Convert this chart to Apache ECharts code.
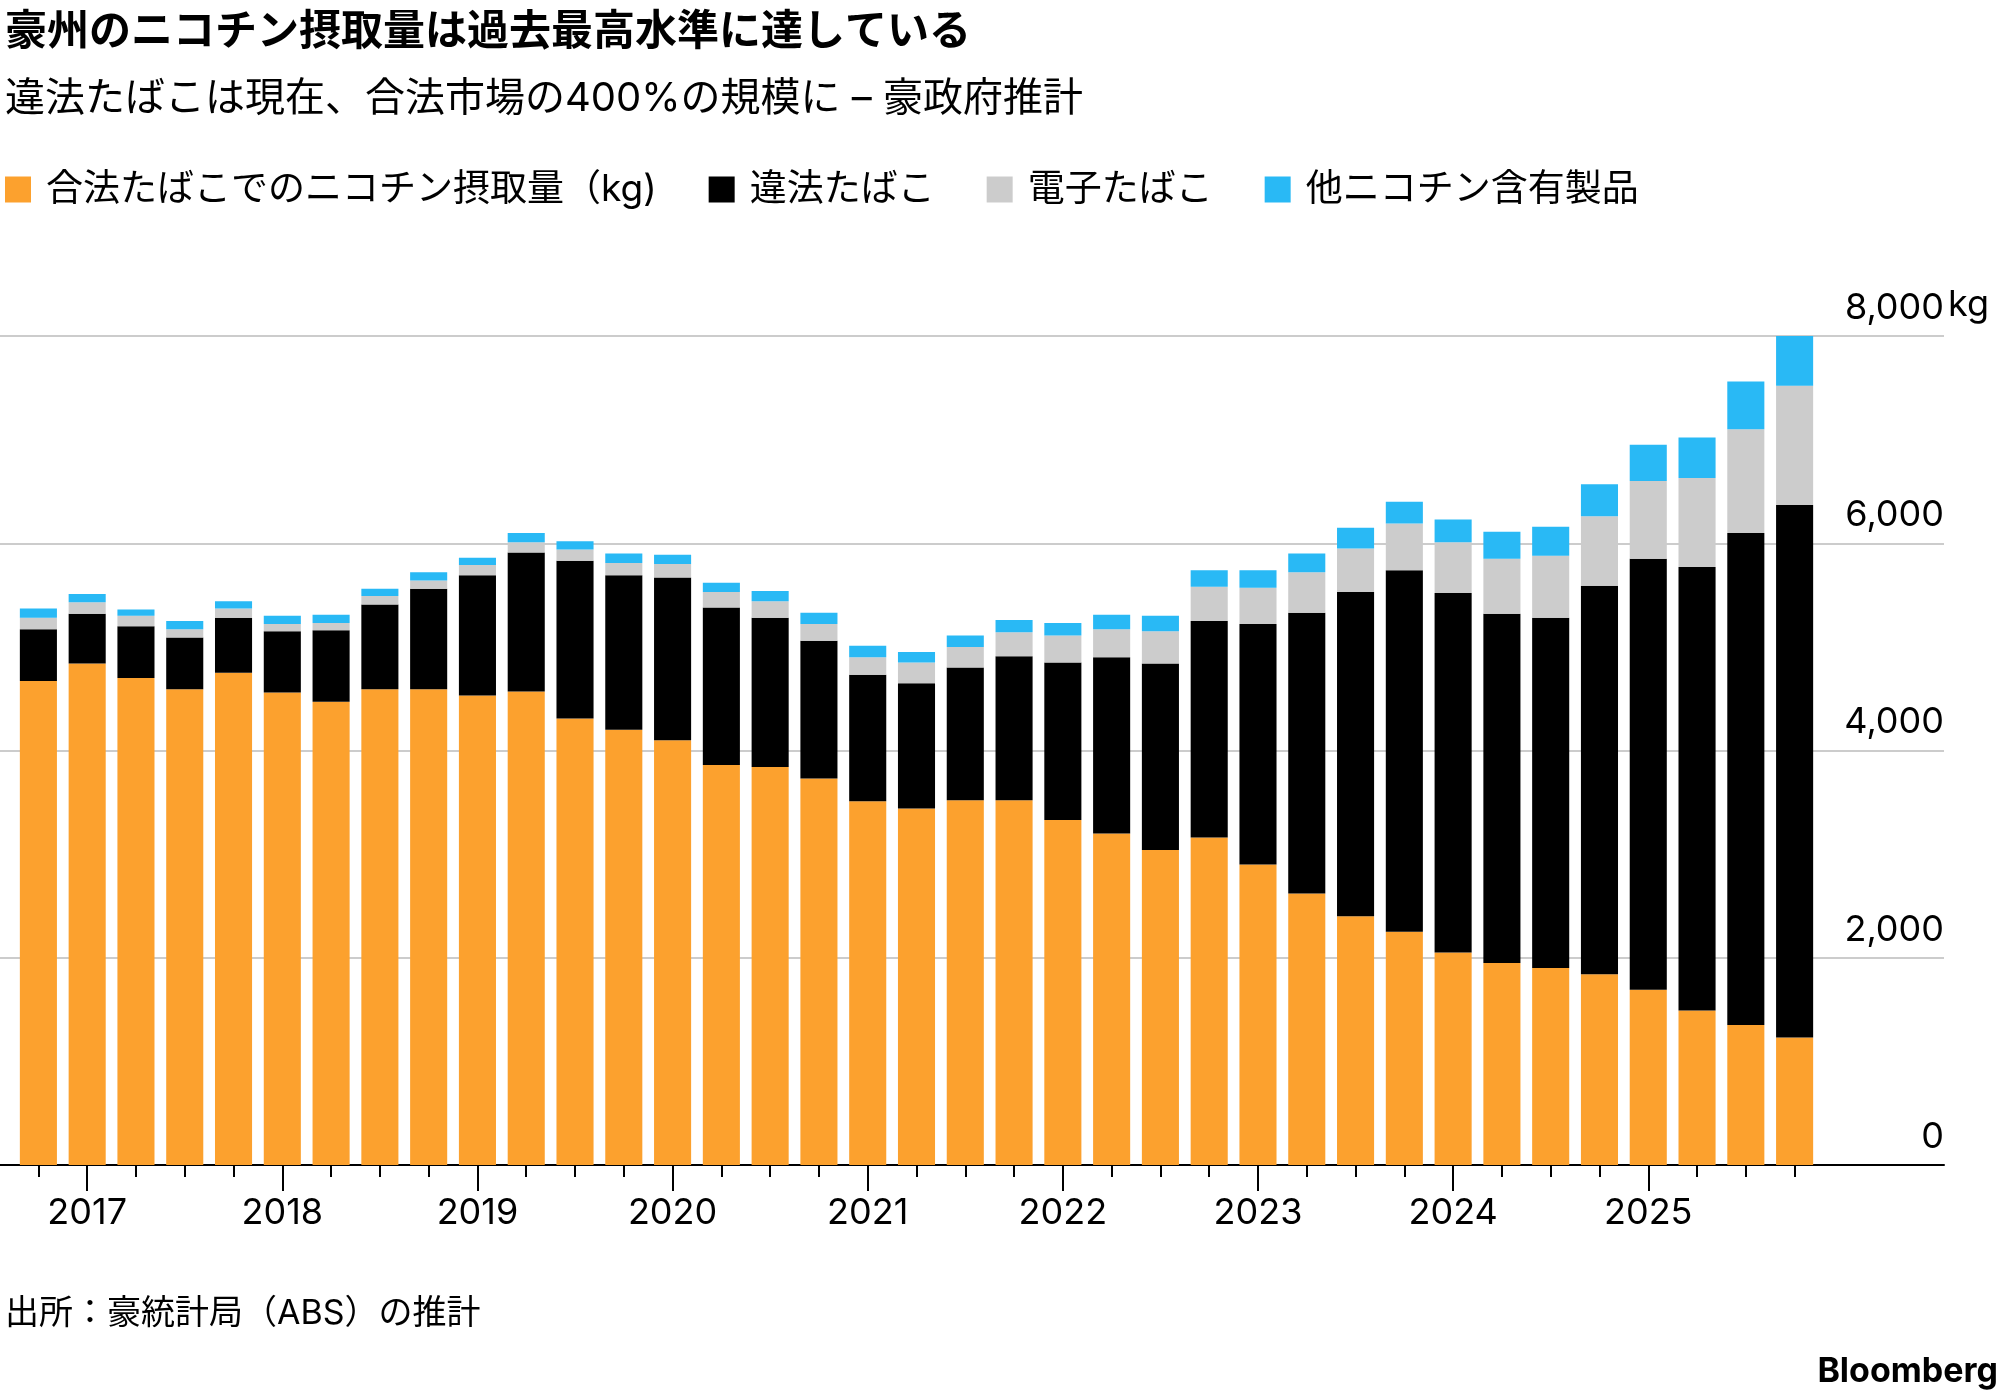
<!DOCTYPE html>
<html>
<head>
<meta charset="utf-8">
<script src="https://cdn.jsdelivr.net/npm/echarts@6/dist/echarts.min.js"></script>
<style>
  html, body { margin: 0; padding: 0; background: #fff; }
  #chart { width: 2005px; height: 1398px; }
</style>
</head>
<body>
<div id="chart"></div>
<script>
// 2016Q4 .. 2025Q4, quarterly
const quarters = [];
for (let y = 2016; y <= 2025; y++) {
  for (let q = 1; q <= 4; q++) {
    if (y === 2016 && q < 4) continue;
    quarters.push(y + "Q" + q);
  }
}
const legalTobacco = [4670, 4840, 4700, 4590, 4750, 4560, 4470, 4590, 4590, 4530, 4570, 4310, 4200, 4100, 3860, 3840, 3730, 3510, 3440, 3520, 3520, 3330, 3200, 3040, 3160, 2900, 2620, 2400, 2250, 2050, 1950, 1900, 1840, 1690, 1490, 1350, 1230];
const illicitTobacco = [500, 480, 500, 500, 530, 590, 690, 820, 970, 1160, 1340, 1520, 1490, 1570, 1520, 1440, 1330, 1220, 1210, 1280, 1390, 1520, 1700, 1800, 2090, 2320, 2710, 3130, 3490, 3470, 3370, 3380, 3750, 4160, 4280, 4750, 5140];
const eCigarettes = [110, 110, 100, 80, 90, 70, 70, 80, 80, 100, 100, 110, 120, 130, 150, 160, 160, 170, 200, 200, 230, 260, 270, 310, 330, 350, 390, 420, 450, 490, 530, 600, 670, 750, 860, 1000, 1150];
const otherNicotine = [90, 80, 60, 80, 70, 80, 80, 70, 80, 70, 90, 80, 90, 90, 90, 100, 110, 110, 100, 110, 120, 120, 140, 150, 160, 170, 180, 200, 210, 220, 260, 280, 310, 350, 390, 460, 500];
const yTicks = [0, 2000, 4000, 6000, 8000];

const seriesNames = ["合法たばこでのニコチン摂取量（kg)", "違法たばこ", "電子たばこ", "他ニコチン含有製品"];
const colors = ["#fca12e", "#000000", "#cccccc", "#29b9f5"];
const seriesData = [legalTobacco, illicitTobacco, eCigarettes, otherNicotine];

const font = "Inter, 'Noto Sans CJK JP', sans-serif";
const chart = echarts.init(document.getElementById("chart"));

const isQ1 = (i) => quarters[i].endsWith("Q1");

chart.setOption({
  animation: false,
  textStyle: { fontFamily: font },
  color: colors,
  title: [
    { text: "豪州のニコチン摂取量は過去最高水準に達している", left: 0, top: 6,
      textStyle: { fontSize: 42, fontWeight: "bold", color: "#000", fontFamily: font } },
    { text: "違法たばこは現在、合法市場の400%の規模に – 豪政府推計", left: 0, top: 74,
      textStyle: { fontSize: 40, fontWeight: "normal", color: "#000", fontFamily: font } },
    { text: "出所：豪統計局（ABS）の推計", left: 0, top: 1292,
      textStyle: { fontSize: 34, fontWeight: "normal", color: "#000", fontFamily: font } },
    { text: "Bloomberg", right: 2, top: 1350,
      textStyle: { fontSize: 34, fontWeight: "bold", color: "#000", fontFamily: font } }
  ],
  legend: {
    left: 0, top: 166, itemWidth: 26, itemHeight: 26, itemGap: 52,
    icon: "rect",
    textStyle: { fontSize: 37, color: "#000", fontFamily: font, padding: [0, 0, 0, 10] },
    data: seriesNames
  },
  graphic: [
    { type: "text", left: 1948, top: 287, style: { text: "kg", font: "36px " + font, fill: "#000" } }
  ],
  grid: [
    { left: 14, right: 186, top: 336, bottom: 233 },
    { left: 0, right: 61, top: 336, bottom: 233 }
  ],
  xAxis: [
    { type: "category", gridIndex: 0, data: quarters,
      axisLine: { show: false },
      axisTick: { show: true, alignWithLabel: true, interval: 0, length: 12, lineStyle: { color: "#000", width: 2 } },
      axisLabel: { show: false } },
    { type: "category", gridIndex: 0, data: quarters, position: "bottom",
      axisLine: { show: false },
      axisTick: { show: true, alignWithLabel: true, length: 26, interval: (i) => isQ1(i), lineStyle: { color: "#000", width: 2 } },
      axisLabel: { interval: (i) => isQ1(i), formatter: (v) => v.slice(0, 4), fontSize: 36, color: "#000", margin: 30, fontFamily: font } },
    { type: "value", gridIndex: 1, min: 0, max: 1, show: true,
      axisLine: { show: true, onZero: false, lineStyle: { color: "#000", width: 2 } },
      axisTick: { show: false }, axisLabel: { show: false }, splitLine: { show: false } }
  ],
  yAxis: [
    { type: "value", gridIndex: 0, min: 0, max: 8000, interval: 2000, show: false },
    { type: "value", gridIndex: 1, min: 0, max: 8000, interval: 2000, position: "right",
      axisLine: { show: false }, axisTick: { show: false },
      splitLine: { lineStyle: { color: "#cccccc", width: 2 } },
      axisLabel: { inside: true, verticalAlign: "bottom", margin: 0, fontSize: 36, color: "#000", fontFamily: font,
        padding: [0, 0, 10, 0],
        formatter: (v) => yTicks.includes(v) ? v.toLocaleString("en-US") : "" } }
  ],
  series: seriesData.map((d, i) => ({
    name: seriesNames[i], type: "bar", stack: "total", xAxisIndex: 0, yAxisIndex: 0,
    data: d, barCategoryGap: "24%", itemStyle: { color: colors[i] }
  }))
});
</script>
</body>
</html>
